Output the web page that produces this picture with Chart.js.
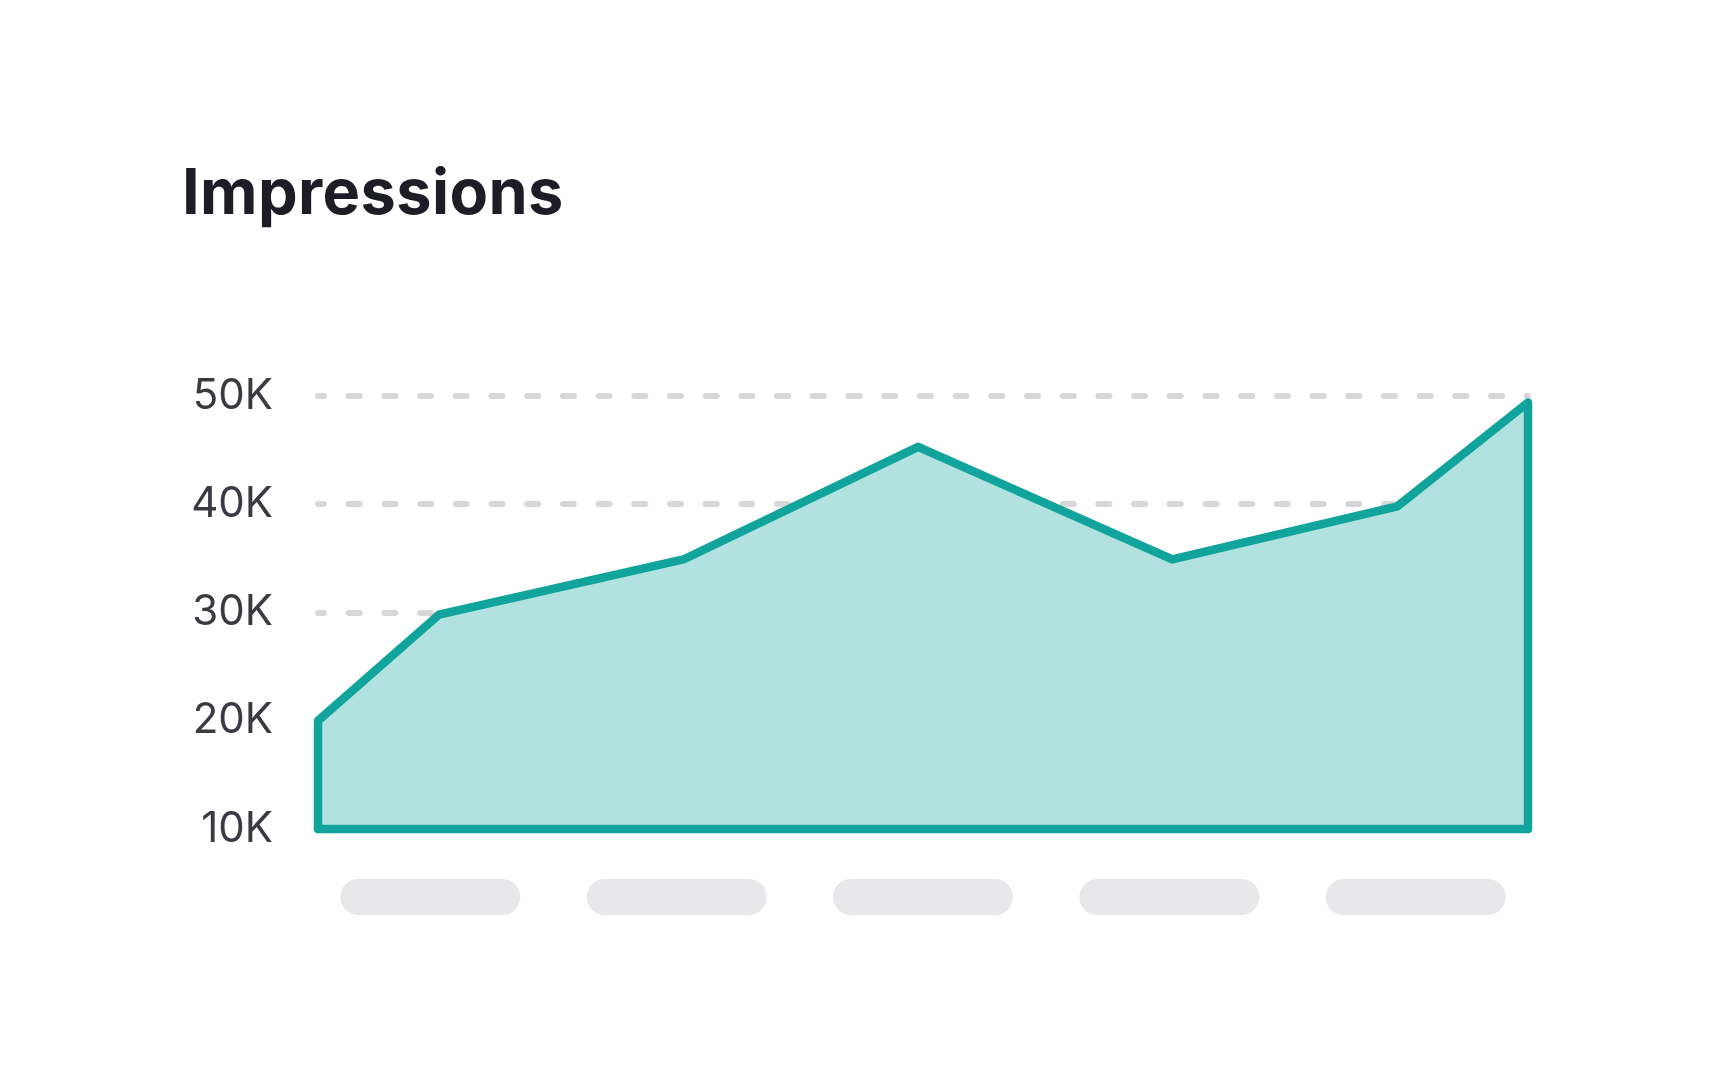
<!DOCTYPE html>
<html>
<head>
<meta charset="utf-8">
<title>Impressions</title>
<script src="https://cdn.jsdelivr.net/npm/chart.js@4"></script>
<style>
  html, body { margin: 0; padding: 0; background: #ffffff; }
  body { width: 1728px; height: 1080px; position: relative; overflow: hidden; }
  h1 {
    position: absolute; left: 182px; top: 160px; margin: 0;
    font-family: Inter, "Noto Sans", sans-serif; font-weight: 700;
    font-size: 63px; line-height: 1; color: #1d1d26; letter-spacing: 0.4px;
  }
  #wrap { position: absolute; left: 0; top: 0; width: 1728px; height: 1080px; }
</style>
</head>
<body>
<h1>Impressions</h1>
<div id="wrap"><canvas id="impressionsChart"></canvas></div>
<script>
// x-axis slots (labels are grey placeholders in the original)
const categories = ['', '', '', '', ''];
// outline of the area
const pointX = [0, 0.5, 1.51, 2.48, 3.53, 4.46, 5];
const impressions = [20000, 29800, 34900, 45300, 34900, 39800, 49400];
const yTicks = [10000, 20000, 30000, 40000, 50000];

const lineColor = '#10a49c';
const fillColor = '#b2e2df';

const baseY = yTicks[0];
const first = pointX[0];
const last = pointX[pointX.length - 1];

// area: up the left side, along the values, down the right side
const areaPoints = [{ x: first, y: baseY }];
pointX.forEach((x, i) => areaPoints.push({ x, y: impressions[i] }));
areaPoints.push({ x: last, y: baseY });

// the bottom edge of the outline
const bottomEdge = [{ x: first, y: baseY }, { x: last, y: baseY }];

// dashed horizontal grid with round caps, under the area
const dashedGrid = {
  id: 'dashedGrid',
  beforeDatasetsDraw(chart) {
    const { ctx, chartArea, scales } = chart;
    ctx.save();
    ctx.strokeStyle = '#d7d7da';
    ctx.lineWidth = 6;
    ctx.lineCap = 'round';
    ctx.setLineDash([11, 24.7]);
    ctx.lineDashOffset = 5;
    yTicks.forEach(v => {
      const y = Math.round(scales.y.getPixelForValue(v));
      ctx.beginPath();
      ctx.moveTo(chartArea.left, y);
      ctx.lineTo(chartArea.right, y);
      ctx.stroke();
    });
    ctx.restore();
  }
};

// grey pill placeholders under the x axis
const pillLabels = {
  id: 'pillLabels',
  afterDraw(chart) {
    const { ctx, chartArea, scales } = chart;
    const w = 180, h = 36, spread = 1.018;
    const cy = chartArea.bottom + 68;
    const mid = (categories.length - 1) / 2;
    ctx.save();
    ctx.fillStyle = '#e8e8ea';
    categories.forEach((c, i) => {
      const cx = scales.x.getPixelForValue(mid + 0.5 + (i - mid) * spread);
      ctx.beginPath();
      ctx.roundRect(cx - w / 2, cy - h / 2, w, h, h / 2);
      ctx.fill();
    });
    ctx.restore();
  }
};

const lineStyle = {
  borderColor: lineColor,
  borderWidth: 8.5,
  borderJoinStyle: 'round',
  borderCapStyle: 'round',
  tension: 0,
  pointRadius: 0,
  pointHoverRadius: 0,
  clip: false
};

const ctx = document.getElementById('impressionsChart').getContext('2d');
new Chart(ctx, {
  type: 'line',
  data: {
    datasets: [
      Object.assign({ label: 'base', data: bottomEdge, fill: false }, lineStyle),
      Object.assign({ label: 'Impressions', data: areaPoints, fill: 'start', backgroundColor: fillColor }, lineStyle)
    ]
  },
  options: {
    responsive: true,
    maintainAspectRatio: false,
    animation: false,
    events: [],
    layout: { padding: { left: 0, right: 200, top: 396, bottom: 251 } },
    plugins: {
      legend: { display: false },
      tooltip: { enabled: false }
    },
    scales: {
      x: {
        type: 'linear',
        min: first,
        max: last,
        display: false
      },
      y: {
        min: yTicks[0],
        max: yTicks[yTicks.length - 1],
        afterFit(scale) { scale.width = 318; },
        afterBuildTicks(scale) { scale.ticks = yTicks.map(v => ({ value: v })); },
        grid: { display: false, drawTicks: false },
        border: { display: false },
        ticks: {
          padding: 45,
          color: '#3a3a43',
          font: { family: 'Inter', size: 42, weight: '400' },
          callback: v => (v / 1000) + 'K'
        }
      }
    }
  },
  plugins: [dashedGrid, pillLabels]
});
</script>
</body>
</html>
